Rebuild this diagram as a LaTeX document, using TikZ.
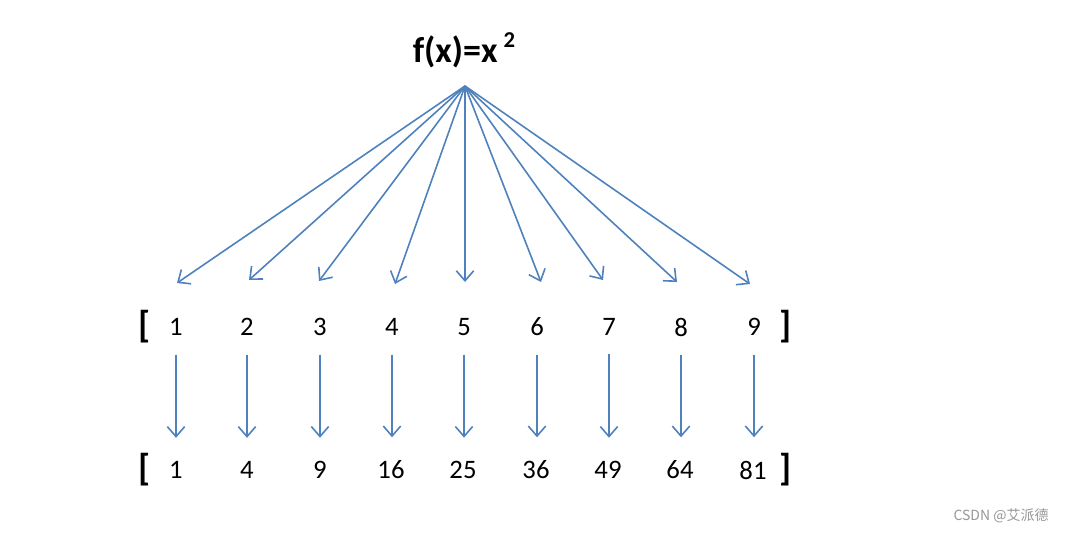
\documentclass[tikz,border=0pt]{standalone}
\usepackage{fontspec}
\setmainfont{Carlito}
\newfontfamily\cjkfont{Noto Sans CJK SC}
\usetikzlibrary{arrows.meta}
\definecolor{arrowblue}{RGB}{79,129,189}
\definecolor{marktext}{RGB}{150,150,150}

\begin{document}
\begin{tikzpicture}[x=0.75pt,y=-0.75pt]
\tikzset{
  numnode/.style={inner sep=0pt,font=\fontsize{20}{24}\selectfont},
  bracketnode/.style={inner sep=0pt,font=\fontsize{28}{30}\selectfont\bfseries},
  titlenode/.style={inner sep=0pt,font=\fontsize{27}{30}\selectfont\bfseries},
  mapedge/.style={draw=arrowblue,line width=1.2pt,-{Straight Barb[length=7.5pt,width=13pt,line width=1.2pt]}},
  valedge/.style={mapedge,shorten >=17.5pt,shorten <=14pt}
}
\useasboundingbox (0,0) rectangle (1066,533);
\node[titlenode,anchor=base] (n_F) at (464,62) {f(x)=x\,\raisebox{11pt}{\fontsize{17}{20}\selectfont 2}};
\coordinate (n_P) at (465,86);
\coordinate (n_T1) at (177,283);
\coordinate (n_T2) at (249,280);
\coordinate (n_T3) at (319,281);
\coordinate (n_T4) at (395,284);
\coordinate (n_T5) at (465,282);
\coordinate (n_T6) at (541,282);
\coordinate (n_T7) at (603,280);
\coordinate (n_T8) at (677,282);
\coordinate (n_T9) at (750,284);
\node[bracketnode] (n_AL) at (145,327) {[};
\node[bracketnode] (n_AR) at (786,327) {]};
\node[numnode] (n_A1) at (176,327) {1};
\node[numnode] (n_A2) at (247,327) {2};
\node[numnode] (n_A3) at (320,327) {3};
\node[numnode] (n_A4) at (392,327) {4};
\node[numnode] (n_A5) at (464,327) {5};
\node[numnode] (n_A6) at (537,327) {6};
\node[numnode] (n_A7) at (609,327) {7};
\node[numnode] (n_A8) at (681,327) {8};
\node[numnode] (n_A9) at (754,327) {9};
\node[bracketnode] (n_BL) at (145,470) {[};
\node[bracketnode] (n_BR) at (786,470) {]};
\node[numnode] (n_B1) at (176,470) {1};
\node[numnode] (n_B2) at (247,470) {4};
\node[numnode] (n_B3) at (320,470) {9};
\node[numnode] (n_B4) at (391,470) {16};
\node[numnode] (n_B5) at (463,470) {25};
\node[numnode] (n_B6) at (536,470) {36};
\node[numnode] (n_B7) at (608,470) {49};
\node[numnode] (n_B8) at (680,470) {64};
\node[numnode] (n_B9) at (753,470) {81};
\node[inner sep=0pt,text=marktext,font=\cjkfont\fontsize{10.5}{12}\selectfont] (n_W) at (1001,516) {CSDN @艾派德};
\draw[mapedge] (n_P) -- (n_T1);
\draw[mapedge] (n_P) -- (n_T2);
\draw[mapedge] (n_P) -- (n_T3);
\draw[mapedge] (n_P) -- (n_T4);
\draw[mapedge] (n_P) -- (n_T5);
\draw[mapedge] (n_P) -- (n_T6);
\draw[mapedge] (n_P) -- (n_T7);
\draw[mapedge] (n_P) -- (n_T8);
\draw[mapedge] (n_P) -- (n_T9);
\draw[valedge] (n_A1.south) -- (n_A1.south |- n_B1.north);
\draw[valedge] (n_A2.south) -- (n_A2.south |- n_B2.north);
\draw[valedge] (n_A3.south) -- (n_A3.south |- n_B3.north);
\draw[valedge] (n_A4.south) -- (n_A4.south |- n_B4.north);
\draw[valedge] (n_A5.south) -- (n_A5.south |- n_B5.north);
\draw[valedge] (n_A6.south) -- (n_A6.south |- n_B6.north);
\draw[valedge] (n_A7.south) -- (n_A7.south |- n_B7.north);
\draw[valedge] (n_A8.south) -- (n_A8.south |- n_B8.north);
\draw[valedge] (n_A9.south) -- (n_A9.south |- n_B9.north);
\end{tikzpicture}
\end{document}
